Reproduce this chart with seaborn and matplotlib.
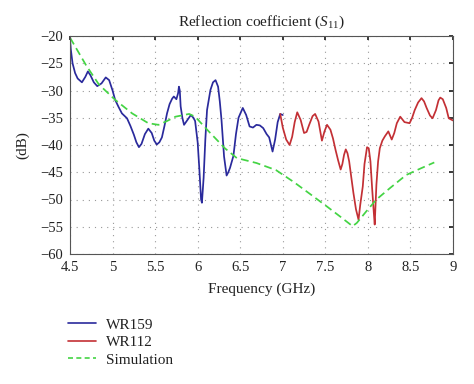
import matplotlib
matplotlib.use("Agg")
import matplotlib.pyplot as plt
import seaborn as sns
import pandas as pd
from matplotlib.lines import Line2D

# ---- data ----
wr159_f = [4.50, 4.51, 4.53, 4.56, 4.59, 4.64, 4.68, 4.71, 4.74, 4.78, 4.82, 4.87, 4.92, 4.96, 5.00,
           5.03, 5.07, 5.11, 5.17, 5.21, 5.25, 5.28, 5.31, 5.34, 5.38, 5.42, 5.46, 5.49, 5.52, 5.55,
           5.58, 5.61, 5.64, 5.67, 5.70, 5.72, 5.75, 5.77, 5.78, 5.79, 5.80, 5.82, 5.84, 5.88, 5.92,
           5.95, 5.97, 6.00, 6.02, 6.04, 6.05, 6.07, 6.09, 6.11, 6.15, 6.18, 6.21, 6.24, 6.26, 6.28,
           6.31, 6.34, 6.36, 6.38, 6.42, 6.45, 6.48, 6.53, 6.57, 6.61, 6.65, 6.69, 6.73, 6.77, 6.81,
           6.84, 6.88, 6.91, 6.94, 6.97, 7.00]
wr159_db = [-20.5, -22.5, -25.0, -26.8, -27.8, -28.5, -27.5, -26.5, -27.2, -28.5, -29.2, -28.7, -27.6, -28.1, -30.0,
            -31.7, -33.0, -34.2, -35.1, -36.5, -38.1, -39.5, -40.4, -39.8, -38.0, -37.0, -37.8, -39.2, -39.9, -39.5,
            -38.6, -36.5, -34.2, -32.5, -31.5, -31.1, -31.6, -30.5, -29.3, -30.0, -32.9, -35.0, -36.3, -35.4, -34.5,
            -35.0, -35.6, -39.5, -44.5, -50.0, -50.6, -46.0, -39.0, -33.6, -29.9, -28.5, -28.1, -29.3, -32.0, -35.4,
            -42.1, -45.6, -45.0, -44.2, -42.0, -38.0, -35.0, -33.2, -34.5, -36.6, -36.8, -36.3, -36.4, -36.9, -38.0,
            -38.6, -41.2, -39.0, -35.8, -34.3, -34.5]

wr112_f = [6.97, 7.00, 7.04, 7.08, 7.11, 7.14, 7.17, 7.21, 7.25, 7.28, 7.31, 7.35, 7.38, 7.42, 7.46,
           7.49, 7.52, 7.56, 7.59, 7.62, 7.65, 7.68, 7.70, 7.72, 7.74, 7.76, 7.78, 7.81, 7.83, 7.86,
           7.89, 7.91, 7.94, 7.96, 7.99, 8.01, 8.03, 8.05, 8.07, 8.08, 8.10, 8.12, 8.14, 8.17, 8.20,
           8.24, 8.28, 8.31, 8.34, 8.38, 8.43, 8.49, 8.52, 8.55, 8.59, 8.63, 8.66, 8.69, 8.73, 8.76,
           8.80, 8.83, 8.85, 8.88, 8.92, 8.95, 9.00]
wr112_db = [-34.3, -36.8, -39.0, -40.0, -38.5, -35.8, -34.0, -35.4, -37.8, -37.6, -36.3, -34.7, -34.3, -35.7, -39.2,
            -37.5, -36.3, -37.2, -38.8, -40.9, -42.8, -44.5, -43.5, -41.8, -40.8, -41.5, -43.0, -46.5, -48.8, -51.8,
            -53.7, -51.0, -47.6, -43.5, -40.4, -40.6, -43.0, -48.0, -52.5, -54.6, -47.3, -43.0, -40.6, -39.2, -38.4,
            -37.5, -39.0, -37.8, -36.0, -34.8, -35.8, -36.0, -35.0, -33.6, -32.2, -31.4, -32.0, -33.2, -34.6, -35.1,
            -33.6, -31.8, -31.3, -31.6, -33.2, -35.1, -35.5]

sim_f = [4.50, 4.69, 4.84, 5.03, 5.23, 5.42, 5.54, 5.64, 5.74, 5.90, 5.97, 6.13, 6.32, 6.46, 6.69,
         6.92, 7.13, 7.33, 7.52, 7.68, 7.82, 7.87, 7.98, 8.10, 8.26, 8.45, 8.62, 8.78]
sim_db = [-20.3, -25.4, -28.9, -31.7, -34.2, -36.0, -36.3, -35.6, -34.8, -34.3, -34.8, -37.5, -40.6, -42.4, -43.3,
          -44.6, -46.8, -49.1, -51.3, -53.2, -54.9, -54.3, -52.2, -50.0, -47.9, -45.5, -44.3, -43.2]

series_names = ["WR159", "WR112", "Simulation"]
x_ticks = [4.5, 5, 5.5, 6, 6.5, 7, 7.5, 8, 8.5, 9]
x_tick_labels = ["4.5", "5", "5.5", "6", "6.5", "7", "7.5", "8", "8.5", "9"]
y_ticks = [-60, -55, -50, -45, -40, -35, -30, -25, -20]

df = pd.concat([
    pd.DataFrame({"f": wr159_f, "db": wr159_db, "series": series_names[0]}),
    pd.DataFrame({"f": wr112_f, "db": wr112_db, "series": series_names[1]}),
    pd.DataFrame({"f": sim_f, "db": sim_db, "series": series_names[2]}),
], ignore_index=True)

sns.set_theme(style="white")
plt.rcParams["font.family"] = ["Liberation Serif", "DejaVu Serif"]
plt.rcParams["mathtext.fontset"] = "custom"
plt.rcParams["mathtext.rm"] = "Liberation Serif"
plt.rcParams["mathtext.it"] = "Liberation Serif:italic"
plt.rcParams["lines.solid_joinstyle"] = "round"
plt.rcParams["lines.dash_joinstyle"] = "round"

fig = plt.figure(figsize=(4.74, 3.84), dpi=100)
ax = fig.add_axes([70 / 474, 1 - 254 / 384, (453 - 70) / 474, (254 - 36) / 384])

palette = {"WR159": "#2a2a9c", "WR112": "#c33035", "Simulation": "#44d444"}
dashes = {"WR159": "", "WR112": "", "Simulation": (4.5, 2.5)}
sns.lineplot(data=df, x="f", y="db", hue="series", style="series", palette=palette,
             dashes=dashes, sort=False, estimator=None, linewidth=1.25, ax=ax, legend=False)

ax.set_xlim(4.5, 9)
ax.set_ylim(-60, -20)
ax.set_xticks(x_ticks)
ax.set_xticklabels(x_tick_labels)
ax.set_yticks(y_ticks)
ax.tick_params(direction="in", top=True, right=True, length=3, labelsize=10.5,
               colors="#222222", pad=5)
for s in ax.spines.values():
    s.set_color("#555555")
    s.set_linewidth(0.8)
ax.grid(True, linestyle=(0, (1, 4.5)), color="#999999", linewidth=0.8)

ax.set_title("Reflection coefficient ($S_{11}$)", fontsize=11, pad=7, color="#222222")
ax.set_xlabel("Frequency (GHz)", fontsize=11, color="#222222", labelpad=6)
ax.set_ylabel("(dB)", fontsize=11, color="#222222", labelpad=8)

handles = [Line2D([], [], color=palette[n], linewidth=1.2,
                  linestyle="-" if n != "Simulation" else (0, (3, 2))) for n in series_names]
fig.legend(handles, series_names, loc="upper left", bbox_to_anchor=(62 / 474, 1 - 312 / 384),
           frameon=False, fontsize=11, handlelength=1.8, handletextpad=0.7, labelspacing=0.25,
           borderaxespad=0, labelcolor="#222222")

fig.savefig("out.png", dpi=100)
